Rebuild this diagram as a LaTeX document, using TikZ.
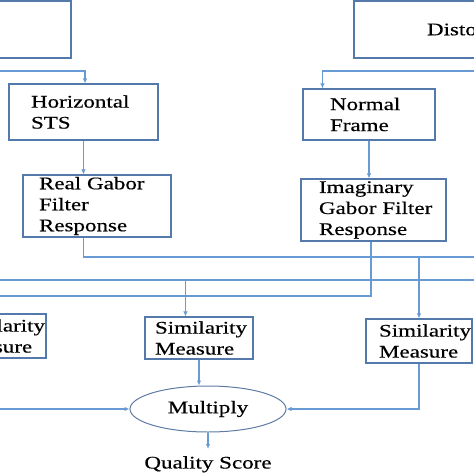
\documentclass[tikz,border=0pt]{standalone}
\usepackage{fontspec}
\setmainfont{Liberation Serif}[FakeStretch=1.3, FakeBold=0.4]
\usetikzlibrary{arrows.meta,shapes.geometric}
\definecolor{boxblue}{RGB}{84,122,172}
\definecolor{lineblue}{RGB}{104,154,212}
\hyphenpenalty=10000

\begin{document}
\begin{tikzpicture}[x=1pt, y=-1pt,
    box/.style={draw=boxblue, line width=1.1pt, inner sep=0pt, align=left,
        font=\fontsize{17.7}{21}\selectfont},
    conn/.style={draw=lineblue, line width=1.1pt},
    >={Latex[length=5pt,width=4.5pt]}]
    \useasboundingbox (0,0) rectangle (474,474);
    \clip (0,0) rectangle (474,474);

    % Input boxes, cut by the top edge
    \node[box, minimum width=192, minimum height=57] (refvid) at (-25,29.5) {};
    \node[box, minimum width=246, minimum height=57, text width=100pt] (disvid) at (477,29.5) {Disto};

    % Frame boxes
    \node[box, minimum width=149, minimum height=56, text width=105pt] (horiz) at (83.5,112) {Horizontal\\STS};
    \node[box, minimum width=132, minimum height=51, text width=78pt] (normal) at (369,114.5) {Normal\\Frame};

    % Gabor responses
    \node[box, minimum width=148, minimum height=62, text width=116pt] (realgab) at (97,206) {Real~Gabor\\Filter\\Response};
    \node[box, minimum width=145, minimum height=62, text width=109pt] (imaggab) at (373.5,210) {Imaginary\\Gabor~Filter\\Response};

    % Similarity boxes
    \node[box, minimum width=103, minimum height=44, text width=83pt] (simL) at (-5.5,336) {Similarity\\Measure};
    \node[box, minimum width=108, minimum height=42, text width=88pt] (simM) at (199,338) {Similarity\\Measure};
    \node[box, minimum width=106, minimum height=44, text width=80pt] (simR) at (419,341) {Similarity\\Measure};

    % Product and result
    \node[ellipse, draw=boxblue!80!gray, line width=1pt, minimum width=156, minimum height=46,
        inner sep=0pt, font=\fontsize{17.7}{21}\selectfont] (mult) at (208,409) {Multiply};
    \node[anchor=north, inner sep=0pt, font=\fontsize{17.7}{21}\selectfont] (score) at (208,456) {Quality Score};

    % Free ends of the lines that leave the picture
    \coordinate (refin) at (-10,71);
    \coordinate (disin) at (484,71);
    \coordinate (realout) at (484,257);
    \coordinate (imagout) at (-10,296);
    \coordinate (passL) at (-10,280);
    \coordinate (passR) at (484,280);
    \coordinate (leftin) at (-10,409);
    \coordinate (simMin) at ([xshift=41pt]simM.north west);

    % Connectors
    \draw[conn, ->] (refin) -| ([xshift=1.5pt]horiz.north);
    \draw[conn, ->] (disin) -| ([xshift=20pt]normal.north west);
    \draw[conn, ->] (horiz.south) -- (horiz.south |- realgab.north);
    \draw[conn, ->] (normal.south) -- (normal.south |- imaggab.north);
    \draw[conn] (horiz.south |- realgab.south) |- (realout);
    \draw[conn, ->] (simR.north |- realout) -- (simR.north);
    \draw[conn] (passL) -- (passR);
    \draw[conn, ->] (simMin |- passL) -- (simMin);
    \draw[conn] ([xshift=-2.5pt]imaggab.south) |- (imagout);
    \draw[conn, ->] (simM.south) -- (simM.south |- mult.north);
    \draw[conn, ->] (leftin) -- (mult.west);
    \draw[conn, ->] (simR.south) |- (mult.east);
    \draw[conn, ->, shorten >=7pt] (mult.south) -- (score.north);
\end{tikzpicture}
\end{document}
